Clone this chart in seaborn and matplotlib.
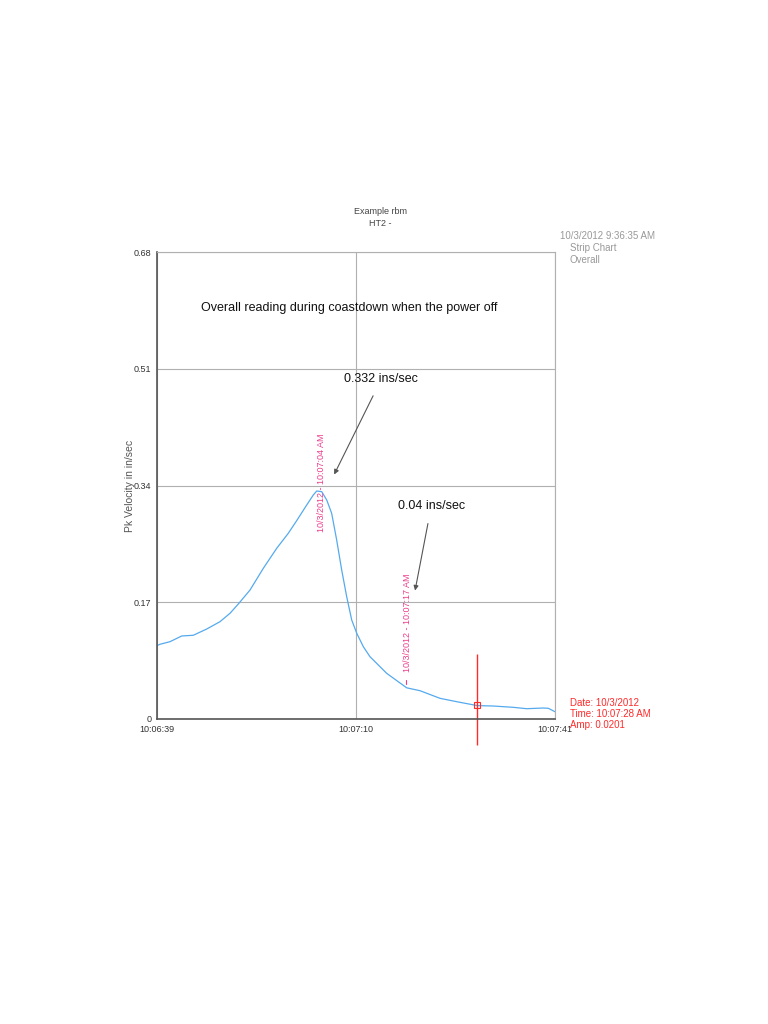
import matplotlib
matplotlib.use("Agg")
import matplotlib.pyplot as plt
import seaborn as sns
import pandas as pd

# ---- data ----
seconds = [0, 0.47, 2.03, 3.85, 5.65, 7.74, 9.81, 11.37, 12.67, 14.49, 16.56, 18.65,
           20.45, 21.76, 23.32, 24.35, 24.88, 25.66, 26.44, 27.21, 27.99, 28.77, 29.55,
           30.33, 31.11, 32.14, 33.18, 33.7, 35.78, 38.9, 40.97, 44.09, 46.69, 49.9,
           52.39, 55.5, 57.59, 60.18, 60.96, 62.0]
velocity = [0.107, 0.1088, 0.1126, 0.1209, 0.1219, 0.1310, 0.1417, 0.1539, 0.1675, 0.1878,
            0.2194, 0.2486, 0.2704, 0.2888, 0.3116, 0.3262, 0.332, 0.331, 0.3189, 0.2995,
            0.2606, 0.2170, 0.1781, 0.1442, 0.1250, 0.1053, 0.0907, 0.0859, 0.0665, 0.0454,
            0.0412, 0.0301, 0.0252, 0.0195, 0.0189, 0.0170, 0.0150, 0.0160, 0.0156, 0.0106]
y_ticks = [0, 0.17, 0.34, 0.51, 0.68]
y_tick_labels = ["0", "0.17", "0.34", "0.51", "0.68"]
x_ticks = [0, 31, 62]
x_tick_labels = ["10:06:39", "10:07:10", "10:07:41"]
peak_time, peak_label = 25.7, "10/3/2012 - 10:07:04 AM"
mark_time, mark_label = 38.9, "10/3/2012 - 10:07:17 AM"
cursor_time, cursor_amp = 49.9, 0.0201

df = pd.DataFrame({"t": seconds, "v": velocity})

sns.set_style("white")
plt.rcParams["font.family"] = ["Liberation Sans", "DejaVu Sans"]

fig = plt.figure(figsize=(7.68, 10.24), dpi=100)
ax = fig.add_axes([157 / 768, 1 - 719 / 1024, 398 / 768, 467 / 1024])

sns.lineplot(data=df, x="t", y="v", ax=ax, color="#55aaee", linewidth=0.9)

ax.set_xlim(0, 62)
ax.set_ylim(0, 0.68)
ax.set_yticks(y_ticks)
ax.set_yticklabels(y_tick_labels)
ax.set_xticks(x_ticks)
ax.set_xticklabels(x_tick_labels)
ax.tick_params(axis="both", labelsize=6.5, colors="#333333", length=3, width=0.8,
               direction="out", pad=1)
ax.set_xlabel("")
ax.set_ylabel("Pk Velocity in in/sec", fontsize=7.5, color="#555555")
ax.yaxis.set_label_coords(-0.055, 0.5)
ax.grid(True, color="#b0b0b0", linewidth=0.8)
ax.set_axisbelow(True)
for s in ["left", "bottom"]:
    ax.spines[s].set_color("#555555")
    ax.spines[s].set_linewidth(1.2)
for s in ["top", "right"]:
    ax.spines[s].set_color("#b0b0b0")
    ax.spines[s].set_linewidth(0.8)

# titles
fig.text(380 / 768, 1 - 212 / 1024, "Example rbm", ha="center", va="center", fontsize=6.5, color="#444444")
fig.text(380 / 768, 1 - 224 / 1024, "HT2 -", ha="center", va="center", fontsize=6.5, color="#444444")
fig.text(560 / 768, 1 - 236 / 1024, "10/3/2012 9:36:35 AM", ha="left", va="center", fontsize=7, color="#999999")
fig.text(570 / 768, 1 - 248 / 1024, "Strip Chart", ha="left", va="center", fontsize=7, color="#999999")
fig.text(570 / 768, 1 - 260 / 1024, "Overall", ha="left", va="center", fontsize=7, color="#999999")

# annotation texts
ax.text(6.8, 0.598, "Overall reading during coastdown when the power off", fontsize=9,
        color="#111111", ha="left", va="center")
ax.annotate("0.332 ins/sec", xy=(27.6, 0.356), xytext=(29.2, 0.495), fontsize=9,
            color="#111111", ha="left", va="center",
            arrowprops=dict(arrowstyle="-|>", color="#555555", lw=0.8, mutation_scale=7,
                            shrinkA=6, shrinkB=0))
ax.annotate("0.04 ins/sec", xy=(40.2, 0.187), xytext=(37.5, 0.31), fontsize=9,
            color="#111111", ha="left", va="center",
            arrowprops=dict(arrowstyle="-|>", color="#555555", lw=0.8, mutation_scale=7,
                            shrinkA=6, shrinkB=0))

pink = "#ee3c8c"
ax.text(peak_time, 0.3436, peak_label, rotation=90, fontsize=6.5, color=pink,
        ha="center", va="center")
ax.text(mark_time + 0.15, 0.140, mark_label, rotation=90, fontsize=6.5, color=pink,
        ha="center", va="center")
ax.plot([mark_time - 0.1, mark_time - 0.1], [0.051, 0.057], color=pink, lw=0.8)

# cursor
red = "#ff2a2a"
ax.plot([cursor_time, cursor_time], [-0.038, 0.095], color=red, lw=1.0, clip_on=False,
        solid_capstyle="butt")
ax.plot([cursor_time], [cursor_amp], marker="s", markersize=5, markerfacecolor="none",
        markeredgecolor=red, markeredgewidth=0.8)
fig.text(570 / 768, 1 - 703 / 1024, "Date: 10/3/2012", ha="left", va="center", fontsize=7, color=red)
fig.text(570 / 768, 1 - 714 / 1024, "Time: 10:07:28 AM", ha="left", va="center", fontsize=7, color=red)
fig.text(570 / 768, 1 - 725 / 1024, "Amp: 0.0201", ha="left", va="center", fontsize=7, color=red)

fig.savefig("out.png", dpi=100)
